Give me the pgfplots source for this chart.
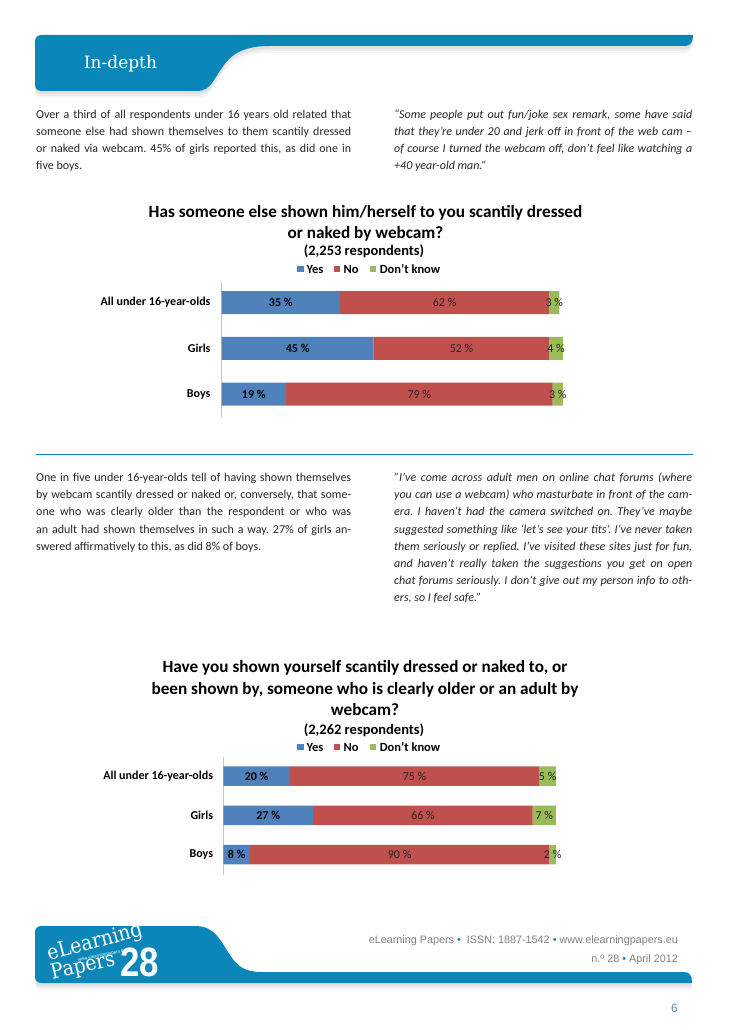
\documentclass[border=0pt]{standalone}
\usepackage{fontspec}
\setmainfont{Carlito}
\newfontfamily\typefont{DejaVu Serif}
\newfontfamily\helv{Liberation Sans}
\usepackage{pgfplots}
\pgfplotsset{compat=1.18}
\frenchspacing

\definecolor{cYes}{HTML}{4F81BD}
\definecolor{cNo}{HTML}{C0504D}
\definecolor{cDK}{HTML}{9BBB59}
\definecolor{band}{HTML}{0A87B8}
\definecolor{txt}{HTML}{262626}
\definecolor{footgray}{HTML}{808080}
\definecolor{pagenum}{HTML}{5B8DB0}

\newcommand\fsz[1]{\fontsize{#1}{#1}\selectfont}
% justified line / plain line of body text
\newcommand\jline[4]{\node[anchor=base west, inner sep=0pt, text=txt, font=\fsz{12}] at (#1,#2) {\makebox[#3][s]{#4}};}
\newcommand\pline[3]{\node[anchor=base west, inner sep=0pt, text=txt, font=\fsz{12}] at (#1,#2) {#3};}
% legend row: y centre
\newcommand\chartlegend[1]{%
  \fill[cYes] (297.3,#1-3.1) rectangle (303.5,#1+3.1);
  \node[anchor=base west, inner sep=0pt, font=\bfseries\fsz{12.5}] at (306.4,#1+4.2) {Yes};
  \fill[cNo] (334.2,#1-3.1) rectangle (340.4,#1+3.1);
  \node[anchor=base west, inner sep=0pt, font=\bfseries\fsz{12.5}] at (343.4,#1+4.2) {No};
  \fill[cDK] (369.6,#1-3.1) rectangle (375.8,#1+3.1);
  \node[anchor=base west, inner sep=0pt, font=\bfseries\fsz{12.5}] at (379.6,#1+4.2) {Don't know};
}

\pgfplotsset{
  webcam/.style={
    xbar stacked, scale only axis, xmin=0, clip=false,
    axis x line=none, axis y line*=left,
    y axis line style={draw=black!22, line width=0.7pt},
    ytick={0,1,2}, yticklabels={Boys,Girls,All under 16-year-olds},
    major tick length=0pt,
    yticklabel style={font=\bfseries\fsz{12}, inner sep=0pt, text=black},
    point meta=explicit symbolic,
    nodes near coords={\pgfplotspointmeta\ \%},
    every node near coord/.append style={anchor=center, font=\fsz{12}, text=black!85},
  },
}

\begin{document}
\begin{tikzpicture}
\useasboundingbox (0,0) rectangle (728pt,-1030pt);

\begin{scope}[x=1pt,y=-1pt]
% header tab
\foreach \s/\o in {7/0.03,5/0.04,3/0.05}{
  \fill[black,opacity=\o,yshift=-\s pt] (41,35) -- (693,35) .. controls (693,42) and (691,46) .. (684,46) -- (270,46) .. controls (232,46) and (226,62) .. (214,80) .. controls (209,88) and (205,91) .. (196,91) -- (41,91) .. controls (37.7,91) and (35,88.3) .. (35,85) -- (35,41) .. controls (35,37.7) and (37.7,35) .. (41,35) -- cycle;
}
\fill[band] (41,35) -- (693,35) .. controls (693,42) and (691,46) .. (684,46) -- (270,46) .. controls (232,46) and (226,62) .. (214,80) .. controls (209,88) and (205,91) .. (196,91) -- (41,91) .. controls (37.7,91) and (35,88.3) .. (35,85) -- (35,41) .. controls (35,37.7) and (37.7,35) .. (41,35) -- cycle;
\node[anchor=base, text=white, font=\typefont\fsz{17}, inner sep=0pt] at (120.5,68.3) {In-depth};

% first text block
\jline{36}{118}{315pt}{Over a third of all respondents under 16 years old related that}
\jline{36}{135.2}{315pt}{someone else had shown themselves to them scantily dressed}
\jline{36}{152.4}{315pt}{or naked via webcam. 45\% of girls reported this, as did one in}
\pline{36}{169.6}{five boys.}
\jline{394}{118}{298pt}{\itshape ``Some people put out fun/joke sex remark, some have said}
\jline{394}{135.2}{298pt}{\itshape that they're under 20 and jerk off in front of the web cam --}
\jline{394}{152.4}{298pt}{\itshape of course I turned the webcam off, don't feel like watching a}
\pline{394}{169.6}{\itshape +40 year-old man.''}

% chart 1 titles and legend
\node[anchor=base, font=\bfseries\fsz{17.2}, inner sep=0pt] at (365.5,217) {Has someone else shown him/herself to you scantily dressed};
\node[anchor=base, font=\bfseries\fsz{17.2}, inner sep=0pt] at (365.5,238) {or naked by webcam?};
\node[anchor=base, font=\bfseries\fsz{14.5}, inner sep=0pt] at (364,255.5) {(2,253 respondents)};
\chartlegend{269}

% separator
\draw[band, line width=0.8pt] (36,454) -- (693,454);

% second text block
\jline{36}{481.5}{315pt}{One in five under 16-year-olds tell of having shown themselves}
\jline{36}{498.7}{315pt}{by webcam scantily dressed or naked or, conversely, that some-}
\jline{36}{515.9}{315pt}{one who was clearly older than the respondent or who was}
\jline{36}{533.1}{315pt}{an adult had shown themselves in such a way. 27\% of girls an-}
\pline{36}{550.3}{swered affirmatively to this, as did 8\% of boys.}
\jline{394}{481.5}{298pt}{\itshape ''I've come across adult men on online chat forums (where}
\jline{394}{498.7}{298pt}{\itshape you can use a webcam) who masturbate in front of the cam-}
\jline{394}{515.9}{298pt}{\itshape era. I haven't had the camera switched on. They've maybe}
\jline{394}{533.1}{298pt}{\itshape suggested something like `let's see your tits'. I've never taken}
\jline{394}{550.3}{298pt}{\itshape them seriously or replied. I've visited these sites just for fun,}
\jline{394}{567.5}{298pt}{\itshape and haven't really taken the suggestions you get on open}
\jline{394}{584.7}{298pt}{\itshape chat forums seriously. I don't give out my person info to oth-}
\pline{394}{601.9}{\itshape ers, so I feel safe.''}

% chart 2 titles and legend
\node[anchor=base, font=\bfseries\fsz{17.2}, inner sep=0pt] at (365,672) {Have you shown yourself scantily dressed or naked to, or};
\node[anchor=base, font=\bfseries\fsz{17.2}, inner sep=0pt] at (365,694) {been shown by, someone who is clearly older or an adult by};
\node[anchor=base, font=\bfseries\fsz{17.2}, inner sep=0pt] at (365,715) {webcam?};
\node[anchor=base, font=\bfseries\fsz{14.5}, inner sep=0pt] at (364,734.5) {(2,262 respondents)};
\chartlegend{747}

% footer tab
\foreach \s/\o in {7/0.03,5/0.04,3/0.05}{
  \fill[black,opacity=\o,yshift=-\s pt] (41,926) -- (195,926) .. controls (215,926) and (220,940) .. (230,955) .. controls (238,967) and (245,972) .. (262,972) -- (684,972) .. controls (690,972) and (692,976) .. (692,983) -- (41,983) .. controls (37.7,983) and (35,980.3) .. (35,977) -- (35,932) .. controls (35,928.7) and (37.7,926) .. (41,926) -- cycle;
}
\fill[band] (41,926) -- (195,926) .. controls (215,926) and (220,940) .. (230,955) .. controls (238,967) and (245,972) .. (262,972) -- (684,972) .. controls (690,972) and (692,976) .. (692,983) -- (41,983) .. controls (37.7,983) and (35,980.3) .. (35,977) -- (35,932) .. controls (35,928.7) and (37.7,926) .. (41,926) -- cycle;
\node[text=white, font=\typefont\fsz{21}, rotate=15, xscale=0.9, inner sep=0pt] at (95,943) {eLearning};
\node[text=white, font=\helv\fsz{4.5}, rotate=11, inner sep=0pt] at (102,955.5) {www.elearningpapers.eu};
\node[text=white, font=\typefont\fsz{21}, rotate=13, xscale=0.9, inner sep=0pt] at (83,967) {Papers};
\node[text=white, font=\helv\bfseries\fsz{41}, xscale=0.85, inner sep=0pt] at (140,962) {28};

\node[anchor=base east, font=\helv\fsz{10.8}, text=footgray, inner sep=0pt] at (678,943) {eLearning Papers {\color{band}•}\ \ ISSN: 1887-1542 {\color{band}•} www.elearningpapers.eu};
\node[anchor=base east, font=\helv\fsz{10.8}, text=footgray, inner sep=0pt] at (678,962) {n.º 28 {\color{band}•} April 2012};
\node[anchor=base east, font=\helv\fsz{12}, text=pagenum, inner sep=0pt] at (678,1012) {6};
\end{scope}

% chart 1
\begin{axis}[webcam,
  at={(221.7pt,-417pt)}, anchor=south west,
  width=342.8pt, height=135pt, xmax=101.5, ymin=-0.5, ymax=2.45,
  bar width=23pt,
  yticklabel style={xshift=-11pt}]
\addplot[fill=cYes, draw=none, nodes near coords style={font=\bfseries\fsz{12}, text=black}]
  coordinates {(35,2) [35] (45,1) [45] (19,0) [19]};
\addplot[fill=cNo, draw=none] coordinates {(62,2) [62] (52,1) [52] (79,0) [79]};
\addplot[fill=cDK, draw=none] coordinates {(3,2) [3] (4,1) [4] (3,0) [3]};
\end{axis}

% chart 2
\begin{axis}[webcam,
  at={(223.3pt,-875pt)}, anchor=south west,
  width=336pt, height=118pt, xmax=101, ymin=-0.52, ymax=2.49,
  bar width=19.5pt,
  yticklabel style={xshift=-10pt}]
\addplot[fill=cYes, draw=none, nodes near coords style={font=\bfseries\fsz{12}, text=black}]
  coordinates {(20,2) [20] (27,1) [27] (8,0) [8]};
\addplot[fill=cNo, draw=none] coordinates {(75,2) [75] (66,1) [66] (90,0) [90]};
\addplot[fill=cDK, draw=none] coordinates {(5,2) [5] (7,1) [7] (2,0) [2]};
\end{axis}
\end{tikzpicture}
\end{document}
